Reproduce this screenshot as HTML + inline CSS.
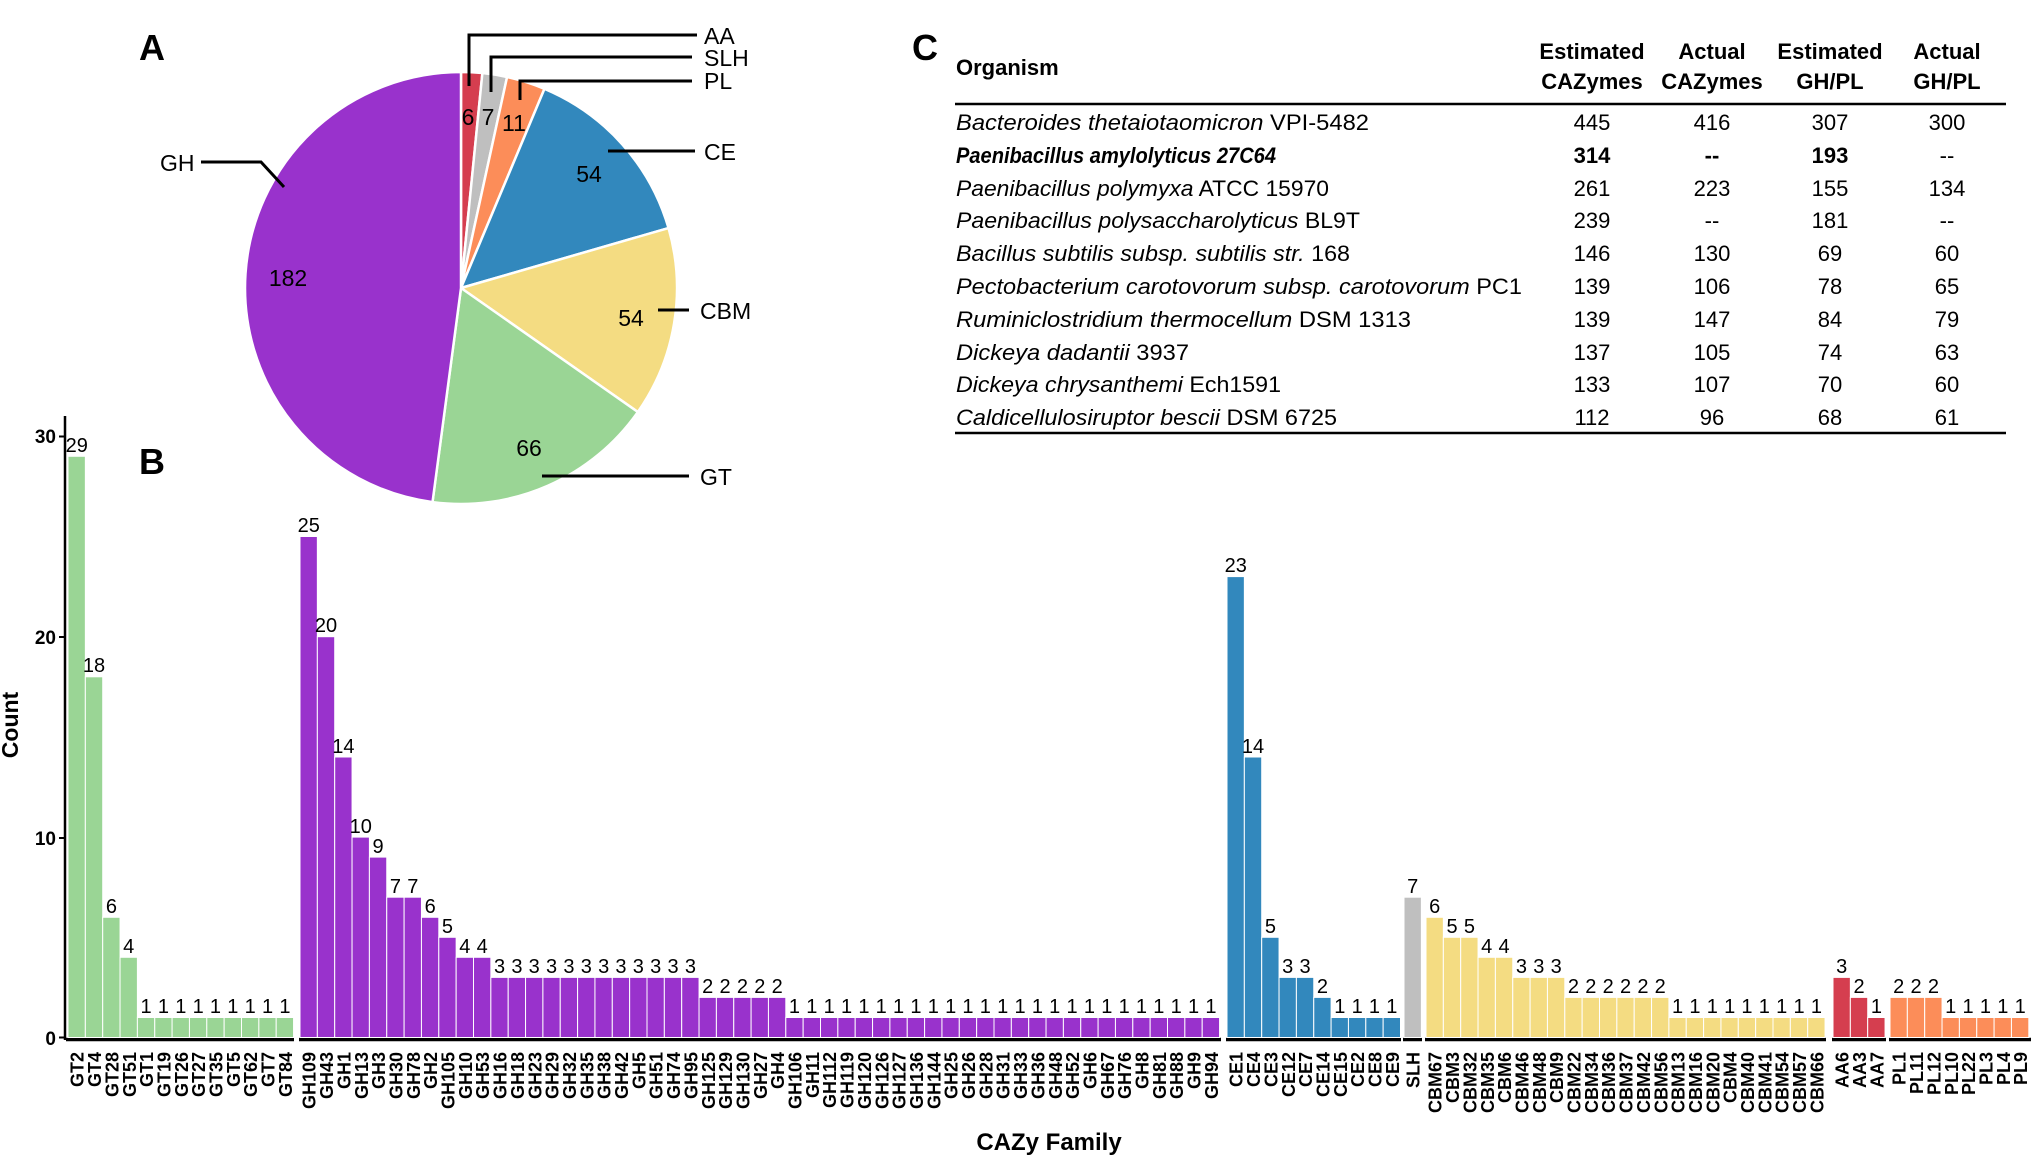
<!DOCTYPE html>
<html><head><meta charset="utf-8"><style>
html,body{margin:0;padding:0;background:#fff}
svg{display:block}
.v{font-family:"Liberation Sans Narrow","Liberation Sans",sans-serif;font-size:20px;text-anchor:middle;fill:#000}
.l{font-family:"Liberation Sans",sans-serif;font-weight:bold;font-size:18px;text-anchor:end;fill:#000}
.gt rect{fill:#9ad595;stroke:#fff;stroke-width:1}
.gh rect{fill:#9932cc;stroke:#fff;stroke-width:1}
.ce rect{fill:#3288bd;stroke:#fff;stroke-width:1}
.sl rect{fill:#bfbfbf;stroke:#fff;stroke-width:1}
.cb rect{fill:#f4dc82;stroke:#fff;stroke-width:1}
.aa rect{fill:#d53e4f;stroke:#fff;stroke-width:1}
.pl rect{fill:#fc8d59;stroke:#fff;stroke-width:1}
.pn{font-family:"Liberation Sans Narrow","Liberation Sans",sans-serif;font-size:23px;fill:#000}
.t{font-family:"Liberation Sans",sans-serif;font-size:22px;fill:#000}
.th{font-family:"Liberation Sans",sans-serif;font-size:22px;font-weight:bold;fill:#000;text-anchor:middle}
.tn{font-family:"Liberation Sans",sans-serif;font-size:22px;fill:#000;text-anchor:middle}
.big{font-family:"Liberation Sans",sans-serif;font-weight:bold;font-size:36px}
.ax{font-family:"Liberation Sans",sans-serif;font-weight:bold;font-size:19px;text-anchor:end}
</style></head><body>
<svg width="2031" height="1157" viewBox="0 0 2031 1157" xmlns="http://www.w3.org/2000/svg">
<text class="big" x="139" y="60">A</text>
<text class="big" x="139" y="474">B</text>
<text class="big" x="912" y="60">C</text>

<g stroke="#fff" stroke-width="2.5" stroke-linejoin="round">
<path d="M461,288 L461,72 A216,216 0 0 1 482.39,73.06 Z" fill="#d53e4f"/>
<path d="M461,288 L482.39,73.06 A216,216 0 0 1 507.07,76.97 Z" fill="#bfbfbf"/>
<path d="M461,288 L507.07,76.97 A216,216 0 0 1 544.49,88.79 Z" fill="#fc8d59"/>
<path d="M461,288 L544.49,88.79 A216,216 0 0 1 668.53,228.08 Z" fill="#3288bd"/>
<path d="M461,288 L668.53,228.08 A216,216 0 0 1 637.85,412.01 Z" fill="#f4dc82"/>
<path d="M461,288 L637.85,412.01 A216,216 0 0 1 432.51,502.11 Z" fill="#9ad595"/>
<path d="M461,288 L432.51,502.11 A216,216 0 0 1 461,72 Z" fill="#9932cc"/>
</g>
<g class="pn" text-anchor="middle">
<text x="468" y="125">6</text><text x="488" y="125">7</text><text x="514" y="131">11</text>
<text x="589" y="182">54</text><text x="631" y="326">54</text><text x="529" y="456">66</text><text x="288" y="286">182</text>
</g>
<g fill="none" stroke="#000" stroke-width="3">
<polyline points="469,86 469,35 697,35"/>
<polyline points="491,92 491,57 692,57"/>
<polyline points="520,100 520,81 692,81"/>
<polyline points="608,151 695,151"/>
<polyline points="658,310 689,310"/>
<polyline points="542,476 689,476"/>
<polyline points="201,162 261,162 284,187"/>
</g>
<g class="pn">
<text x="704" y="44">AA</text><text x="704" y="66">SLH</text><text x="704" y="89">PL</text>
<text x="704" y="160">CE</text><text x="700" y="319">CBM</text><text x="700" y="485">GT</text>
<text x="160" y="171">GH</text>
</g>

<text class="t" font-weight="bold" x="956" y="75">Organism</text>
<text class="th" x="1592" y="59">Estimated</text><text class="th" x="1592" y="89">CAZymes</text>
<text class="th" x="1712" y="59">Actual</text><text class="th" x="1712" y="89">CAZymes</text>
<text class="th" x="1830" y="59">Estimated</text><text class="th" x="1830" y="89">GH/PL</text>
<text class="th" x="1947" y="59">Actual</text><text class="th" x="1947" y="89">GH/PL</text>
<line x1="955" y1="104" x2="2006" y2="104" stroke="#000" stroke-width="2.5"/>
<line x1="955" y1="433" x2="2006" y2="433" stroke="#000" stroke-width="2.5"/>
<g class="t">
<text x="956" y="130" textLength="413" lengthAdjust="spacingAndGlyphs"><tspan font-style="italic">Bacteroides thetaiotaomicron</tspan> VPI-5482</text>
<text x="956" y="163" textLength="320" lengthAdjust="spacingAndGlyphs" font-weight="bold" font-style="italic">Paenibacillus amylolyticus 27C64</text>
<text x="956" y="196" textLength="373" lengthAdjust="spacingAndGlyphs"><tspan font-style="italic">Paenibacillus polymyxa</tspan> ATCC 15970</text>
<text x="956" y="228" textLength="404" lengthAdjust="spacingAndGlyphs"><tspan font-style="italic">Paenibacillus polysaccharolyticus</tspan> BL9T</text>
<text x="956" y="261" textLength="394" lengthAdjust="spacingAndGlyphs"><tspan font-style="italic">Bacillus subtilis subsp. subtilis str.</tspan> 168</text>
<text x="956" y="294" textLength="566" lengthAdjust="spacingAndGlyphs"><tspan font-style="italic">Pectobacterium carotovorum subsp. carotovorum</tspan> PC1</text>
<text x="956" y="327" textLength="455" lengthAdjust="spacingAndGlyphs"><tspan font-style="italic">Ruminiclostridium thermocellum</tspan> DSM 1313</text>
<text x="956" y="360" textLength="233" lengthAdjust="spacingAndGlyphs"><tspan font-style="italic">Dickeya dadantii</tspan> 3937</text>
<text x="956" y="392" textLength="325" lengthAdjust="spacingAndGlyphs"><tspan font-style="italic">Dickeya chrysanthemi</tspan> Ech1591</text>
<text x="956" y="425" textLength="381" lengthAdjust="spacingAndGlyphs"><tspan font-style="italic">Caldicellulosiruptor bescii</tspan> DSM 6725</text>
</g>
<g class="tn">
<text x="1592" y="130">445</text><text x="1712" y="130">416</text><text x="1830" y="130">307</text><text x="1947" y="130">300</text>
<text x="1592" y="163" font-weight="bold">314</text><text x="1712" y="163" font-weight="bold">--</text><text x="1830" y="163" font-weight="bold">193</text><text x="1947" y="163">--</text>
<text x="1592" y="196">261</text><text x="1712" y="196">223</text><text x="1830" y="196">155</text><text x="1947" y="196">134</text>
<text x="1592" y="228">239</text><text x="1712" y="228">--</text><text x="1830" y="228">181</text><text x="1947" y="228">--</text>
<text x="1592" y="261">146</text><text x="1712" y="261">130</text><text x="1830" y="261">69</text><text x="1947" y="261">60</text>
<text x="1592" y="294">139</text><text x="1712" y="294">106</text><text x="1830" y="294">78</text><text x="1947" y="294">65</text>
<text x="1592" y="327">139</text><text x="1712" y="327">147</text><text x="1830" y="327">84</text><text x="1947" y="327">79</text>
<text x="1592" y="360">137</text><text x="1712" y="360">105</text><text x="1830" y="360">74</text><text x="1947" y="360">63</text>
<text x="1592" y="392">133</text><text x="1712" y="392">107</text><text x="1830" y="392">70</text><text x="1947" y="392">60</text>
<text x="1592" y="425">112</text><text x="1712" y="425">96</text><text x="1830" y="425">68</text><text x="1947" y="425">61</text>
</g>

<line x1="65" y1="416" x2="65" y2="1040" stroke="#000" stroke-width="2.5"/>
<g stroke="#000" stroke-width="2"><line x1="59" y1="436.5" x2="65" y2="436.5"/><line x1="59" y1="637" x2="65" y2="637"/><line x1="59" y1="838" x2="65" y2="838"/><line x1="59" y1="1037.5" x2="65" y2="1037.5"/></g>
<text class="ax" x="56" y="443">30</text><text class="ax" x="56" y="644">20</text><text class="ax" x="56" y="845">10</text><text class="ax" x="56" y="1045">0</text>
<text font-family="Liberation Sans,sans-serif" font-weight="bold" font-size="23" text-anchor="middle" transform="translate(18,725) rotate(-90)">Count</text>
<text font-family="Liberation Sans,sans-serif" font-weight="bold" font-size="24" text-anchor="middle" x="1049" y="1150">CAZy Family</text>
<g stroke="#000" stroke-width="3.5">
<line x1="66" y1="1039.5" x2="294" y2="1039.5"/>
<line x1="299" y1="1039.5" x2="1221" y2="1039.5"/>
<line x1="1226" y1="1039.5" x2="1401" y2="1039.5"/>
<line x1="1403" y1="1039.5" x2="1422" y2="1039.5"/>
<line x1="1425" y1="1039.5" x2="1826" y2="1039.5"/>
<line x1="1832" y1="1039.5" x2="1886" y2="1039.5"/>
<line x1="1889" y1="1039.5" x2="2031" y2="1039.5"/>
</g>

<g class="gt" transform="translate(68,0)">
<g transform="translate(0,0)"><rect y="456.3" width="17.35" height="581.2"/><text class="v" x="8.7" y="452">29</text><text class="l" transform="translate(15.7,1052) rotate(-90)">GT2</text></g>
<g transform="translate(17.35,0)"><rect y="676.8" width="17.35" height="360.7"/><text class="v" x="8.7" y="672">18</text><text class="l" transform="translate(15.7,1052) rotate(-90)">GT4</text></g>
<g transform="translate(34.7,0)"><rect y="917.3" width="17.35" height="120.2"/><text class="v" x="8.7" y="913">6</text><text class="l" transform="translate(15.7,1052) rotate(-90)">GT28</text></g>
<g transform="translate(52.05,0)"><rect y="957.3" width="17.35" height="80.2"/><text class="v" x="8.7" y="953">4</text><text class="l" transform="translate(15.7,1052) rotate(-90)">GT51</text></g>
<g transform="translate(69.4,0)"><rect y="1017.5" width="17.35" height="20"/><text class="v" x="8.7" y="1013">1</text><text class="l" transform="translate(15.7,1052) rotate(-90)">GT1</text></g>
<g transform="translate(86.75,0)"><rect y="1017.5" width="17.35" height="20"/><text class="v" x="8.7" y="1013">1</text><text class="l" transform="translate(15.7,1052) rotate(-90)">GT19</text></g>
<g transform="translate(104.1,0)"><rect y="1017.5" width="17.35" height="20"/><text class="v" x="8.7" y="1013">1</text><text class="l" transform="translate(15.7,1052) rotate(-90)">GT26</text></g>
<g transform="translate(121.45,0)"><rect y="1017.5" width="17.35" height="20"/><text class="v" x="8.7" y="1013">1</text><text class="l" transform="translate(15.7,1052) rotate(-90)">GT27</text></g>
<g transform="translate(138.8,0)"><rect y="1017.5" width="17.35" height="20"/><text class="v" x="8.7" y="1013">1</text><text class="l" transform="translate(15.7,1052) rotate(-90)">GT35</text></g>
<g transform="translate(156.15,0)"><rect y="1017.5" width="17.35" height="20"/><text class="v" x="8.7" y="1013">1</text><text class="l" transform="translate(15.7,1052) rotate(-90)">GT5</text></g>
<g transform="translate(173.5,0)"><rect y="1017.5" width="17.35" height="20"/><text class="v" x="8.7" y="1013">1</text><text class="l" transform="translate(15.7,1052) rotate(-90)">GT62</text></g>
<g transform="translate(190.85,0)"><rect y="1017.5" width="17.35" height="20"/><text class="v" x="8.7" y="1013">1</text><text class="l" transform="translate(15.7,1052) rotate(-90)">GT7</text></g>
<g transform="translate(208.2,0)"><rect y="1017.5" width="17.35" height="20"/><text class="v" x="8.7" y="1013">1</text><text class="l" transform="translate(15.7,1052) rotate(-90)">GT84</text></g>
</g>

<g class="gh" transform="translate(300,0)">
<g transform="translate(0,0)"><rect y="536.5" width="17.35" height="501"/><text class="v" x="8.7" y="532">25</text><text class="l" transform="translate(15.7,1052) rotate(-90)">GH109</text></g>
<g transform="translate(17.35,0)"><rect y="636.7" width="17.35" height="400.8"/><text class="v" x="8.7" y="632">20</text><text class="l" transform="translate(15.7,1052) rotate(-90)">GH43</text></g>
<g transform="translate(34.7,0)"><rect y="757" width="17.35" height="280.5"/><text class="v" x="8.7" y="753">14</text><text class="l" transform="translate(15.7,1052) rotate(-90)">GH1</text></g>
<g transform="translate(52.05,0)"><rect y="837.1" width="17.35" height="200.4"/><text class="v" x="8.7" y="833">10</text><text class="l" transform="translate(15.7,1052) rotate(-90)">GH13</text></g>
<g transform="translate(69.4,0)"><rect y="857.1" width="17.35" height="180.4"/><text class="v" x="8.7" y="853">9</text><text class="l" transform="translate(15.7,1052) rotate(-90)">GH3</text></g>
<g transform="translate(86.75,0)"><rect y="897.2" width="17.35" height="140.3"/><text class="v" x="8.7" y="893">7</text><text class="l" transform="translate(15.7,1052) rotate(-90)">GH30</text></g>
<g transform="translate(104.1,0)"><rect y="897.2" width="17.35" height="140.3"/><text class="v" x="8.7" y="893">7</text><text class="l" transform="translate(15.7,1052) rotate(-90)">GH78</text></g>
<g transform="translate(121.45,0)"><rect y="917.3" width="17.35" height="120.2"/><text class="v" x="8.7" y="913">6</text><text class="l" transform="translate(15.7,1052) rotate(-90)">GH2</text></g>
<g transform="translate(138.8,0)"><rect y="937.3" width="17.35" height="100.2"/><text class="v" x="8.7" y="933">5</text><text class="l" transform="translate(15.7,1052) rotate(-90)">GH105</text></g>
<g transform="translate(156.15,0)"><rect y="957.3" width="17.35" height="80.2"/><text class="v" x="8.7" y="953">4</text><text class="l" transform="translate(15.7,1052) rotate(-90)">GH10</text></g>
<g transform="translate(173.5,0)"><rect y="957.3" width="17.35" height="80.2"/><text class="v" x="8.7" y="953">4</text><text class="l" transform="translate(15.7,1052) rotate(-90)">GH53</text></g>
<g transform="translate(190.85,0)"><rect y="977.4" width="17.35" height="60.1"/><text class="v" x="8.7" y="973">3</text><text class="l" transform="translate(15.7,1052) rotate(-90)">GH16</text></g>
<g transform="translate(208.2,0)"><rect y="977.4" width="17.35" height="60.1"/><text class="v" x="8.7" y="973">3</text><text class="l" transform="translate(15.7,1052) rotate(-90)">GH18</text></g>
<g transform="translate(225.55,0)"><rect y="977.4" width="17.35" height="60.1"/><text class="v" x="8.7" y="973">3</text><text class="l" transform="translate(15.7,1052) rotate(-90)">GH23</text></g>
<g transform="translate(242.9,0)"><rect y="977.4" width="17.35" height="60.1"/><text class="v" x="8.7" y="973">3</text><text class="l" transform="translate(15.7,1052) rotate(-90)">GH29</text></g>
<g transform="translate(260.25,0)"><rect y="977.4" width="17.35" height="60.1"/><text class="v" x="8.7" y="973">3</text><text class="l" transform="translate(15.7,1052) rotate(-90)">GH32</text></g>
<g transform="translate(277.6,0)"><rect y="977.4" width="17.35" height="60.1"/><text class="v" x="8.7" y="973">3</text><text class="l" transform="translate(15.7,1052) rotate(-90)">GH35</text></g>
<g transform="translate(294.95,0)"><rect y="977.4" width="17.35" height="60.1"/><text class="v" x="8.7" y="973">3</text><text class="l" transform="translate(15.7,1052) rotate(-90)">GH38</text></g>
<g transform="translate(312.3,0)"><rect y="977.4" width="17.35" height="60.1"/><text class="v" x="8.7" y="973">3</text><text class="l" transform="translate(15.7,1052) rotate(-90)">GH42</text></g>
<g transform="translate(329.65,0)"><rect y="977.4" width="17.35" height="60.1"/><text class="v" x="8.7" y="973">3</text><text class="l" transform="translate(15.7,1052) rotate(-90)">GH5</text></g>
<g transform="translate(347,0)"><rect y="977.4" width="17.35" height="60.1"/><text class="v" x="8.7" y="973">3</text><text class="l" transform="translate(15.7,1052) rotate(-90)">GH51</text></g>
<g transform="translate(364.35,0)"><rect y="977.4" width="17.35" height="60.1"/><text class="v" x="8.7" y="973">3</text><text class="l" transform="translate(15.7,1052) rotate(-90)">GH74</text></g>
<g transform="translate(381.7,0)"><rect y="977.4" width="17.35" height="60.1"/><text class="v" x="8.7" y="973">3</text><text class="l" transform="translate(15.7,1052) rotate(-90)">GH95</text></g>
<g transform="translate(399.05,0)"><rect y="997.4" width="17.35" height="40.1"/><text class="v" x="8.7" y="993">2</text><text class="l" transform="translate(15.7,1052) rotate(-90)">GH125</text></g>
<g transform="translate(416.4,0)"><rect y="997.4" width="17.35" height="40.1"/><text class="v" x="8.7" y="993">2</text><text class="l" transform="translate(15.7,1052) rotate(-90)">GH129</text></g>
<g transform="translate(433.75,0)"><rect y="997.4" width="17.35" height="40.1"/><text class="v" x="8.7" y="993">2</text><text class="l" transform="translate(15.7,1052) rotate(-90)">GH130</text></g>
<g transform="translate(451.1,0)"><rect y="997.4" width="17.35" height="40.1"/><text class="v" x="8.7" y="993">2</text><text class="l" transform="translate(15.7,1052) rotate(-90)">GH27</text></g>
<g transform="translate(468.45,0)"><rect y="997.4" width="17.35" height="40.1"/><text class="v" x="8.7" y="993">2</text><text class="l" transform="translate(15.7,1052) rotate(-90)">GH4</text></g>
<g transform="translate(485.8,0)"><rect y="1017.5" width="17.35" height="20"/><text class="v" x="8.7" y="1013">1</text><text class="l" transform="translate(15.7,1052) rotate(-90)">GH106</text></g>
<g transform="translate(503.15,0)"><rect y="1017.5" width="17.35" height="20"/><text class="v" x="8.7" y="1013">1</text><text class="l" transform="translate(15.7,1052) rotate(-90)">GH11</text></g>
<g transform="translate(520.5,0)"><rect y="1017.5" width="17.35" height="20"/><text class="v" x="8.7" y="1013">1</text><text class="l" transform="translate(15.7,1052) rotate(-90)">GH112</text></g>
<g transform="translate(537.85,0)"><rect y="1017.5" width="17.35" height="20"/><text class="v" x="8.7" y="1013">1</text><text class="l" transform="translate(15.7,1052) rotate(-90)">GH119</text></g>
<g transform="translate(555.2,0)"><rect y="1017.5" width="17.35" height="20"/><text class="v" x="8.7" y="1013">1</text><text class="l" transform="translate(15.7,1052) rotate(-90)">GH120</text></g>
<g transform="translate(572.55,0)"><rect y="1017.5" width="17.35" height="20"/><text class="v" x="8.7" y="1013">1</text><text class="l" transform="translate(15.7,1052) rotate(-90)">GH126</text></g>
<g transform="translate(589.9,0)"><rect y="1017.5" width="17.35" height="20"/><text class="v" x="8.7" y="1013">1</text><text class="l" transform="translate(15.7,1052) rotate(-90)">GH127</text></g>
<g transform="translate(607.25,0)"><rect y="1017.5" width="17.35" height="20"/><text class="v" x="8.7" y="1013">1</text><text class="l" transform="translate(15.7,1052) rotate(-90)">GH136</text></g>
<g transform="translate(624.6,0)"><rect y="1017.5" width="17.35" height="20"/><text class="v" x="8.7" y="1013">1</text><text class="l" transform="translate(15.7,1052) rotate(-90)">GH144</text></g>
<g transform="translate(641.95,0)"><rect y="1017.5" width="17.35" height="20"/><text class="v" x="8.7" y="1013">1</text><text class="l" transform="translate(15.7,1052) rotate(-90)">GH25</text></g>
<g transform="translate(659.3,0)"><rect y="1017.5" width="17.35" height="20"/><text class="v" x="8.7" y="1013">1</text><text class="l" transform="translate(15.7,1052) rotate(-90)">GH26</text></g>
<g transform="translate(676.65,0)"><rect y="1017.5" width="17.35" height="20"/><text class="v" x="8.7" y="1013">1</text><text class="l" transform="translate(15.7,1052) rotate(-90)">GH28</text></g>
<g transform="translate(694,0)"><rect y="1017.5" width="17.35" height="20"/><text class="v" x="8.7" y="1013">1</text><text class="l" transform="translate(15.7,1052) rotate(-90)">GH31</text></g>
<g transform="translate(711.35,0)"><rect y="1017.5" width="17.35" height="20"/><text class="v" x="8.7" y="1013">1</text><text class="l" transform="translate(15.7,1052) rotate(-90)">GH33</text></g>
<g transform="translate(728.7,0)"><rect y="1017.5" width="17.35" height="20"/><text class="v" x="8.7" y="1013">1</text><text class="l" transform="translate(15.7,1052) rotate(-90)">GH36</text></g>
<g transform="translate(746.05,0)"><rect y="1017.5" width="17.35" height="20"/><text class="v" x="8.7" y="1013">1</text><text class="l" transform="translate(15.7,1052) rotate(-90)">GH48</text></g>
<g transform="translate(763.4,0)"><rect y="1017.5" width="17.35" height="20"/><text class="v" x="8.7" y="1013">1</text><text class="l" transform="translate(15.7,1052) rotate(-90)">GH52</text></g>
<g transform="translate(780.75,0)"><rect y="1017.5" width="17.35" height="20"/><text class="v" x="8.7" y="1013">1</text><text class="l" transform="translate(15.7,1052) rotate(-90)">GH6</text></g>
<g transform="translate(798.1,0)"><rect y="1017.5" width="17.35" height="20"/><text class="v" x="8.7" y="1013">1</text><text class="l" transform="translate(15.7,1052) rotate(-90)">GH67</text></g>
<g transform="translate(815.45,0)"><rect y="1017.5" width="17.35" height="20"/><text class="v" x="8.7" y="1013">1</text><text class="l" transform="translate(15.7,1052) rotate(-90)">GH76</text></g>
<g transform="translate(832.8,0)"><rect y="1017.5" width="17.35" height="20"/><text class="v" x="8.7" y="1013">1</text><text class="l" transform="translate(15.7,1052) rotate(-90)">GH8</text></g>
<g transform="translate(850.15,0)"><rect y="1017.5" width="17.35" height="20"/><text class="v" x="8.7" y="1013">1</text><text class="l" transform="translate(15.7,1052) rotate(-90)">GH81</text></g>
<g transform="translate(867.5,0)"><rect y="1017.5" width="17.35" height="20"/><text class="v" x="8.7" y="1013">1</text><text class="l" transform="translate(15.7,1052) rotate(-90)">GH88</text></g>
<g transform="translate(884.85,0)"><rect y="1017.5" width="17.35" height="20"/><text class="v" x="8.7" y="1013">1</text><text class="l" transform="translate(15.7,1052) rotate(-90)">GH9</text></g>
<g transform="translate(902.2,0)"><rect y="1017.5" width="17.35" height="20"/><text class="v" x="8.7" y="1013">1</text><text class="l" transform="translate(15.7,1052) rotate(-90)">GH94</text></g>
</g>

<g class="ce" transform="translate(1227,0)">
<g transform="translate(0,0)"><rect y="576.6" width="17.35" height="460.9"/><text class="v" x="8.7" y="572">23</text><text class="l" transform="translate(15.7,1052) rotate(-90)">CE1</text></g>
<g transform="translate(17.35,0)"><rect y="757" width="17.35" height="280.5"/><text class="v" x="8.7" y="753">14</text><text class="l" transform="translate(15.7,1052) rotate(-90)">CE4</text></g>
<g transform="translate(34.7,0)"><rect y="937.3" width="17.35" height="100.2"/><text class="v" x="8.7" y="933">5</text><text class="l" transform="translate(15.7,1052) rotate(-90)">CE3</text></g>
<g transform="translate(52.05,0)"><rect y="977.4" width="17.35" height="60.1"/><text class="v" x="8.7" y="973">3</text><text class="l" transform="translate(15.7,1052) rotate(-90)">CE12</text></g>
<g transform="translate(69.4,0)"><rect y="977.4" width="17.35" height="60.1"/><text class="v" x="8.7" y="973">3</text><text class="l" transform="translate(15.7,1052) rotate(-90)">CE7</text></g>
<g transform="translate(86.75,0)"><rect y="997.4" width="17.35" height="40.1"/><text class="v" x="8.7" y="993">2</text><text class="l" transform="translate(15.7,1052) rotate(-90)">CE14</text></g>
<g transform="translate(104.1,0)"><rect y="1017.5" width="17.35" height="20"/><text class="v" x="8.7" y="1013">1</text><text class="l" transform="translate(15.7,1052) rotate(-90)">CE15</text></g>
<g transform="translate(121.45,0)"><rect y="1017.5" width="17.35" height="20"/><text class="v" x="8.7" y="1013">1</text><text class="l" transform="translate(15.7,1052) rotate(-90)">CE2</text></g>
<g transform="translate(138.8,0)"><rect y="1017.5" width="17.35" height="20"/><text class="v" x="8.7" y="1013">1</text><text class="l" transform="translate(15.7,1052) rotate(-90)">CE8</text></g>
<g transform="translate(156.15,0)"><rect y="1017.5" width="17.35" height="20"/><text class="v" x="8.7" y="1013">1</text><text class="l" transform="translate(15.7,1052) rotate(-90)">CE9</text></g>
</g>

<g class="sl" transform="translate(1404,0)">
<g><rect y="897.2" width="17.35" height="140.3"/><text class="v" x="8.7" y="893">7</text><text class="l" transform="translate(15.7,1052) rotate(-90)">SLH</text></g>
</g>

<g class="cb" transform="translate(1426,0)">
<g transform="translate(0,0)"><rect y="917.3" width="17.35" height="120.2"/><text class="v" x="8.7" y="913">6</text><text class="l" transform="translate(15.7,1052) rotate(-90)">CBM67</text></g>
<g transform="translate(17.35,0)"><rect y="937.3" width="17.35" height="100.2"/><text class="v" x="8.7" y="933">5</text><text class="l" transform="translate(15.7,1052) rotate(-90)">CBM3</text></g>
<g transform="translate(34.7,0)"><rect y="937.3" width="17.35" height="100.2"/><text class="v" x="8.7" y="933">5</text><text class="l" transform="translate(15.7,1052) rotate(-90)">CBM32</text></g>
<g transform="translate(52.05,0)"><rect y="957.3" width="17.35" height="80.2"/><text class="v" x="8.7" y="953">4</text><text class="l" transform="translate(15.7,1052) rotate(-90)">CBM35</text></g>
<g transform="translate(69.4,0)"><rect y="957.3" width="17.35" height="80.2"/><text class="v" x="8.7" y="953">4</text><text class="l" transform="translate(15.7,1052) rotate(-90)">CBM6</text></g>
<g transform="translate(86.75,0)"><rect y="977.4" width="17.35" height="60.1"/><text class="v" x="8.7" y="973">3</text><text class="l" transform="translate(15.7,1052) rotate(-90)">CBM46</text></g>
<g transform="translate(104.1,0)"><rect y="977.4" width="17.35" height="60.1"/><text class="v" x="8.7" y="973">3</text><text class="l" transform="translate(15.7,1052) rotate(-90)">CBM48</text></g>
<g transform="translate(121.45,0)"><rect y="977.4" width="17.35" height="60.1"/><text class="v" x="8.7" y="973">3</text><text class="l" transform="translate(15.7,1052) rotate(-90)">CBM9</text></g>
<g transform="translate(138.8,0)"><rect y="997.4" width="17.35" height="40.1"/><text class="v" x="8.7" y="993">2</text><text class="l" transform="translate(15.7,1052) rotate(-90)">CBM22</text></g>
<g transform="translate(156.15,0)"><rect y="997.4" width="17.35" height="40.1"/><text class="v" x="8.7" y="993">2</text><text class="l" transform="translate(15.7,1052) rotate(-90)">CBM34</text></g>
<g transform="translate(173.5,0)"><rect y="997.4" width="17.35" height="40.1"/><text class="v" x="8.7" y="993">2</text><text class="l" transform="translate(15.7,1052) rotate(-90)">CBM36</text></g>
<g transform="translate(190.85,0)"><rect y="997.4" width="17.35" height="40.1"/><text class="v" x="8.7" y="993">2</text><text class="l" transform="translate(15.7,1052) rotate(-90)">CBM37</text></g>
<g transform="translate(208.2,0)"><rect y="997.4" width="17.35" height="40.1"/><text class="v" x="8.7" y="993">2</text><text class="l" transform="translate(15.7,1052) rotate(-90)">CBM42</text></g>
<g transform="translate(225.55,0)"><rect y="997.4" width="17.35" height="40.1"/><text class="v" x="8.7" y="993">2</text><text class="l" transform="translate(15.7,1052) rotate(-90)">CBM56</text></g>
<g transform="translate(242.9,0)"><rect y="1017.5" width="17.35" height="20"/><text class="v" x="8.7" y="1013">1</text><text class="l" transform="translate(15.7,1052) rotate(-90)">CBM13</text></g>
<g transform="translate(260.25,0)"><rect y="1017.5" width="17.35" height="20"/><text class="v" x="8.7" y="1013">1</text><text class="l" transform="translate(15.7,1052) rotate(-90)">CBM16</text></g>
<g transform="translate(277.6,0)"><rect y="1017.5" width="17.35" height="20"/><text class="v" x="8.7" y="1013">1</text><text class="l" transform="translate(15.7,1052) rotate(-90)">CBM20</text></g>
<g transform="translate(294.95,0)"><rect y="1017.5" width="17.35" height="20"/><text class="v" x="8.7" y="1013">1</text><text class="l" transform="translate(15.7,1052) rotate(-90)">CBM4</text></g>
<g transform="translate(312.3,0)"><rect y="1017.5" width="17.35" height="20"/><text class="v" x="8.7" y="1013">1</text><text class="l" transform="translate(15.7,1052) rotate(-90)">CBM40</text></g>
<g transform="translate(329.65,0)"><rect y="1017.5" width="17.35" height="20"/><text class="v" x="8.7" y="1013">1</text><text class="l" transform="translate(15.7,1052) rotate(-90)">CBM41</text></g>
<g transform="translate(347,0)"><rect y="1017.5" width="17.35" height="20"/><text class="v" x="8.7" y="1013">1</text><text class="l" transform="translate(15.7,1052) rotate(-90)">CBM54</text></g>
<g transform="translate(364.35,0)"><rect y="1017.5" width="17.35" height="20"/><text class="v" x="8.7" y="1013">1</text><text class="l" transform="translate(15.7,1052) rotate(-90)">CBM57</text></g>
<g transform="translate(381.7,0)"><rect y="1017.5" width="17.35" height="20"/><text class="v" x="8.7" y="1013">1</text><text class="l" transform="translate(15.7,1052) rotate(-90)">CBM66</text></g>
</g>

<g class="aa" transform="translate(1833,0)">
<g transform="translate(0,0)"><rect y="977.4" width="17.35" height="60.1"/><text class="v" x="8.7" y="973">3</text><text class="l" transform="translate(15.7,1052) rotate(-90)">AA6</text></g>
<g transform="translate(17.35,0)"><rect y="997.4" width="17.35" height="40.1"/><text class="v" x="8.7" y="993">2</text><text class="l" transform="translate(15.7,1052) rotate(-90)">AA3</text></g>
<g transform="translate(34.7,0)"><rect y="1017.5" width="17.35" height="20"/><text class="v" x="8.7" y="1013">1</text><text class="l" transform="translate(15.7,1052) rotate(-90)">AA7</text></g>
</g>

<g class="pl" transform="translate(1890,0)">
<g transform="translate(0,0)"><rect y="997.4" width="17.35" height="40.1"/><text class="v" x="8.7" y="993">2</text><text class="l" transform="translate(15.7,1052) rotate(-90)">PL1</text></g>
<g transform="translate(17.35,0)"><rect y="997.4" width="17.35" height="40.1"/><text class="v" x="8.7" y="993">2</text><text class="l" transform="translate(15.7,1052) rotate(-90)">PL11</text></g>
<g transform="translate(34.7,0)"><rect y="997.4" width="17.35" height="40.1"/><text class="v" x="8.7" y="993">2</text><text class="l" transform="translate(15.7,1052) rotate(-90)">PL12</text></g>
<g transform="translate(52.05,0)"><rect y="1017.5" width="17.35" height="20"/><text class="v" x="8.7" y="1013">1</text><text class="l" transform="translate(15.7,1052) rotate(-90)">PL10</text></g>
<g transform="translate(69.4,0)"><rect y="1017.5" width="17.35" height="20"/><text class="v" x="8.7" y="1013">1</text><text class="l" transform="translate(15.7,1052) rotate(-90)">PL22</text></g>
<g transform="translate(86.75,0)"><rect y="1017.5" width="17.35" height="20"/><text class="v" x="8.7" y="1013">1</text><text class="l" transform="translate(15.7,1052) rotate(-90)">PL3</text></g>
<g transform="translate(104.1,0)"><rect y="1017.5" width="17.35" height="20"/><text class="v" x="8.7" y="1013">1</text><text class="l" transform="translate(15.7,1052) rotate(-90)">PL4</text></g>
<g transform="translate(121.45,0)"><rect y="1017.5" width="17.35" height="20"/><text class="v" x="8.7" y="1013">1</text><text class="l" transform="translate(15.7,1052) rotate(-90)">PL9</text></g>
</g>
</svg>
</body></html>
